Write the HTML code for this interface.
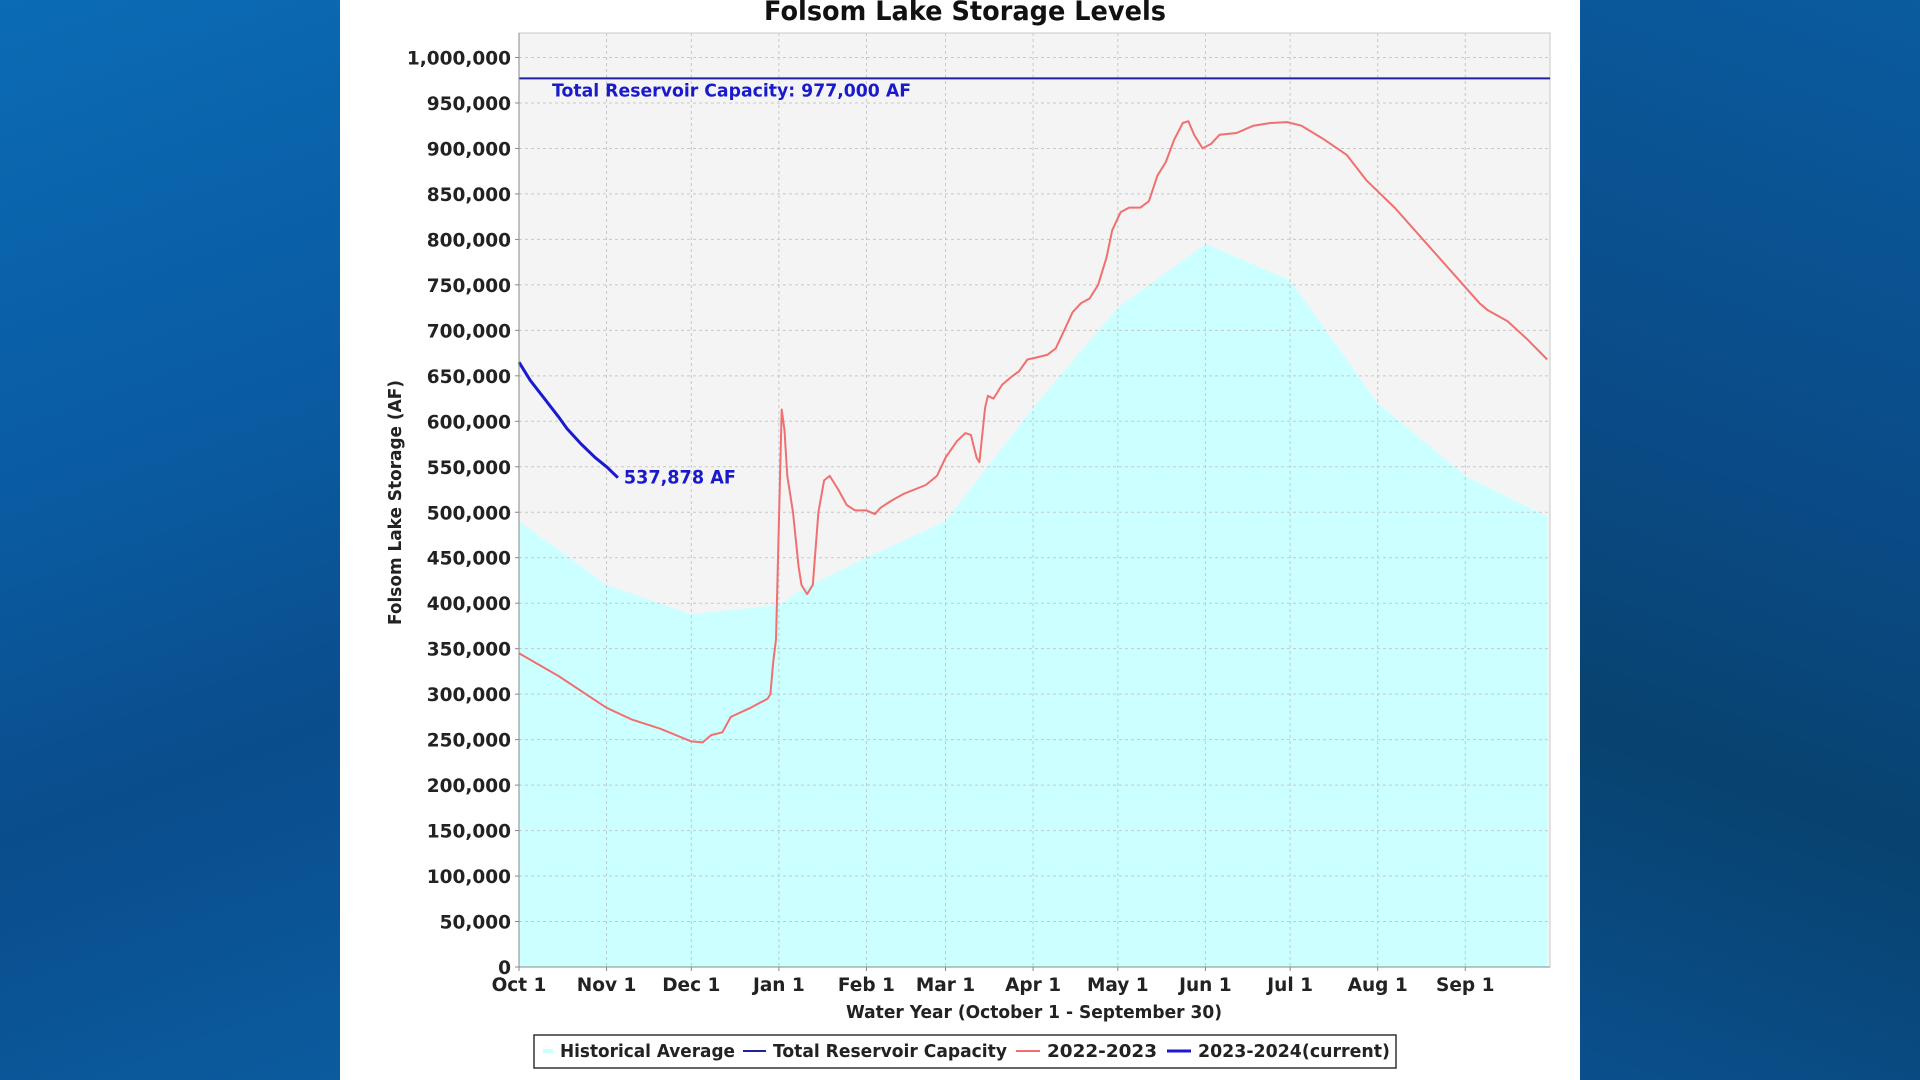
<!DOCTYPE html>
<html><head><meta charset="utf-8"><style>
html,body{margin:0;padding:0;width:1920px;height:1080px;overflow:hidden;}
body{background:linear-gradient(135deg,#0a5fa8 0%,#0a4f8f 40%,#08457f 60%,#0b5595 100%);position:relative;font-family:"DejaVu Sans","Liberation Sans",sans-serif;}
.bgL,.bgR{position:absolute;top:0;height:1080px;}
.bgL{left:0;width:340px;background:linear-gradient(160deg,#0b6bb5 0%,#0a5aa0 45%,#0a4d8c 70%,#0b5b9e 100%);}
.bgR{left:1580px;width:340px;background:linear-gradient(200deg,#0a5b9f 0%,#0a4a85 45%,#08426f 70%,#0a4f8c 100%);}
#panel{position:absolute;left:340px;top:0;width:1240px;height:1080px;background:#fff;}
svg text{font-family:"DejaVu Sans","Liberation Sans",sans-serif;font-weight:bold;}
</style></head><body>
<div class="bgL"></div>
<div class="bgR"></div>
<div id="panel"></div>
<svg id="chart" width="1920" height="1080" style="position:absolute;left:0;top:0"></svg>
<script>
const monthLabels=["Oct 1","Nov 1","Dec 1","Jan 1","Feb 1","Mar 1","Apr 1","May 1","Jun 1","Jul 1","Aug 1","Sep 1"];
const monthDays=[0,31,61,92,123,151,182,212,243,273,304,335];
const yTicks=[0,50000,100000,150000,200000,250000,300000,350000,400000,450000,500000,550000,600000,650000,700000,750000,800000,850000,900000,950000,1000000];
const histDays=[0,31,61,92,100,123,151,182,212,243,273,304,335,364];
const histVals=[490,420,388,398,415,450,490,615,725,795,755,620,540,495];
const prevDays=[0,14,31,40,50,61,65,68,72,75,82,88,89,90,91,93,94,95,97,99,100,102,104,106,108,110,113,116,119,123,126,128,132,136,140,144,148,151,155,158,160,162,163,165,166,168,171,174,177,180,183,187,190,193,196,199,202,205,208,210,213,216,220,223,226,229,232,235,237,239,242,245,248,254,260,266,272,277,285,293,300,310,320,330,340,343,350,357,364];
const prevVals=[345,320,285,272,262,248,247,255,258,275,285,295,300,335,360,613,590,540,500,440,420,410,420,500,535,540,525,508,502,502,498,505,513,520,525,530,540,560,578,587,585,560,555,615,628,625,640,648,655,668,670,673,680,700,720,730,735,750,780,810,830,835,835,842,870,885,910,928,930,915,900,905,915,917,925,928,929,925,910,893,865,835,800,765,730,722,710,690,668];
const curDays=[0,4,9,14,17,22,27,31,35];
const curVals=[665,645,625,605,592,575,560,550,538];
const capacity=977000;
const currentLabel="537,878 AF";

const L=519,R=1550,T=33,B=967,Y0=967,YPER=909.5/1000000;
const xs=d=>L+d*(R-L)/365;
const ys=v=>Y0-v*YPER;
const svg=document.getElementById('chart');
const NS="http://www.w3.org/2000/svg";
function mk(tag,attrs,parent){const e=document.createElementNS(NS,tag);for(const k in attrs)e.setAttribute(k,attrs[k]);(parent||svg).appendChild(e);return e;}

const bg=mk('rect',{x:L,y:T,width:R-L,height:B-T,fill:'#f4f4f4',stroke:'#c8c8c8'});



let d='M'+xs(histDays[0])+','+ys(0);
histDays.forEach((x,i)=>{d+=' L'+xs(x).toFixed(1)+','+ys(histVals[i]*1000).toFixed(1);});
d+=' L'+xs(histDays[histDays.length-1])+','+ys(0)+' Z';
const area=mk('path',{d:d,fill:'#ccffff'});



yTicks.forEach(v=>{
  if(v>0){const g=mk('line',{x1:L,x2:R,y1:ys(v),y2:ys(v),stroke:'#c8c8c8','stroke-dasharray':'3,3','stroke-width':1});
  
  }
  const t=mk('text',{x:L-8,y:ys(v)+7,'text-anchor':'end','font-size':18.5,fill:'#222'});
  t.textContent=v.toLocaleString('en-US');
  
  
  mk('line',{x1:L-4,x2:L,y1:ys(v),y2:ys(v),stroke:'#888'});
});
monthDays.forEach((m,i)=>{
  if(m>0){const g=mk('line',{x1:xs(m),x2:xs(m),y1:T,y2:B,stroke:'#c8c8c8','stroke-dasharray':'3,3','stroke-width':1});
  
  }
  mk('line',{x1:xs(m),x2:xs(m),y1:B,y2:B+4,stroke:'#888'});
  const t=mk('text',{x:xs(m),y:B+24,'text-anchor':'middle','font-size':18.5,fill:'#222'});
  t.textContent=monthLabels[i];
  
  
});

const cap=mk('line',{x1:L,x2:R,y1:ys(capacity),y2:ys(capacity),stroke:'#2020a0','stroke-width':2});


const capT=mk('text',{x:552,y:ys(capacity)+18,'font-size':18,fill:'#1a1acc',textLength:359,lengthAdjust:'spacingAndGlyphs'});
capT.textContent='Total Reservoir Capacity: '+capacity.toLocaleString('en-US')+' AF';



function line(days,vals,color,w){return mk('path',{d:days.map((x,i)=>(i?'L':'M')+xs(x).toFixed(1)+','+ys(vals[i]*1000).toFixed(1)).join(' '),fill:'none',stroke:color,'stroke-width':w,'stroke-linejoin':'round'});}
const p=line(prevDays,prevVals,'#f07070',2);


const c=line(curDays,curVals,'#1a1ad0',3);


const cl=mk('text',{x:xs(curDays[curDays.length-1])+6,y:ys(curVals[curVals.length-1]*1000)+6,'font-size':19,fill:'#1a1acc',textLength:112,lengthAdjust:'spacingAndGlyphs'});
cl.textContent=currentLabel;



mk('line',{x1:L,x2:R,y1:B,y2:B,stroke:'#888'});
mk('line',{x1:L,x2:L,y1:T,y2:B,stroke:'#888'});

const title=mk('text',{x:764,y:20,'font-size':27,fill:'#111',textLength:402,lengthAdjust:'spacingAndGlyphs'});
title.textContent='Folsom Lake Storage Levels';


const yt=mk('text',{x:0,y:0,'font-size':18,fill:'#222',transform:'translate(401,625) rotate(-90)',textLength:245,lengthAdjust:'spacingAndGlyphs'});
yt.textContent='Folsom Lake Storage (AF)';


const xt=mk('text',{x:846,y:1018,'font-size':18,fill:'#222',textLength:376,lengthAdjust:'spacingAndGlyphs'});
xt.textContent='Water Year (October 1 - September 30)';



const lg=mk('rect',{x:534,y:1035,width:862,height:33,fill:'#fff',stroke:'#333','stroke-width':1.5});


const items=[["Historical Average","#ccffff",543,4,560,175],["Total Reservoir Capacity","#2020a0",743,2,773,234],["2022-2023","#f07070",1016,2,1047,110],["2023-2024(current)","#1a1ad0",1167,3,1198,192]];
items.forEach(it=>{
  mk('line',{x1:it[2],x2:it[2]+(it[4]-it[2]-7),y1:1051,y2:1051,stroke:it[1],'stroke-width':it[3]});
  const t=mk('text',{x:it[4],y:1057,'font-size':18,fill:'#222',textLength:it[5],lengthAdjust:'spacingAndGlyphs'});
  t.textContent=it[0];
  
  
});
</script>
</body></html>
